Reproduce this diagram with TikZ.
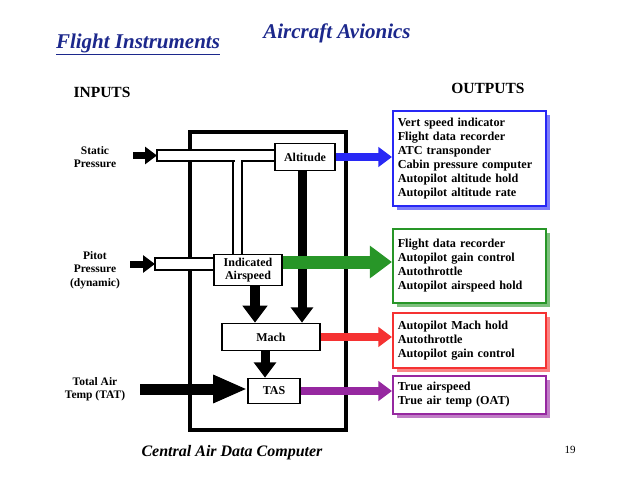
\documentclass[tikz,border=0pt]{standalone}
\usepackage{fontspec}
\setmainfont{Liberation Serif}
\usetikzlibrary{arrows.meta,shadows}
\definecolor{ttl}{RGB}{28,40,140}
\definecolor{ablue}{RGB}{40,40,245}
\definecolor{agreen}{RGB}{40,150,40}
\definecolor{ared}{RGB}{245,50,50}
\definecolor{apurp}{RGB}{150,40,160}
\begin{document}
\begin{tikzpicture}[x=1pt,y=-1pt,
  blk/.style={draw,line width=1.6pt,fill=white,font=\bfseries\fontsize{12}{13}\selectfont,align=center,inner sep=0pt},
  lbl/.style={font=\bfseries\fontsize{11.5}{13.5}\selectfont,align=center},
  out/.style={draw=#1,line width=1.5pt,fill=white,align=left,anchor=north west,font=\bfseries\fontsize{12.2}{14}\selectfont,inner xsep=5pt,inner ysep=3pt,text width=143pt,
    drop shadow={fill=#1!60,shadow xshift=4pt,shadow yshift=-4pt,opacity=1}},
  fat/.style={line width=#1,-{Triangle[width=2.4*#1,length=1.7*#1]}},
  tube/.style={draw,line width=1.4pt,fill=white}]
\fill[white] (0,0) rectangle (638,479);
\node[font=\bfseries\itshape\fontsize{21}{24}\selectfont,text=ttl] (t1) at (138,44) {\underline{Flight Instruments}};
\node[font=\bfseries\itshape\fontsize{21}{24}\selectfont,text=ttl] (t2) at (337,33) {Aircraft Avionics};
\node[font=\bfseries\fontsize{15.5}{17}\selectfont] (in) at (102,92) {INPUTS};
\node[font=\bfseries\fontsize{15.5}{17}\selectfont] (ou) at (488,88) {OUTPUTS};
% big box
\draw[line width=4pt] (190,132) rectangle (346,430);
% tubes
\draw[tube] (157,150) rectangle (277,161);
\draw[tube] (155,258) rectangle (215,270);
\draw[tube] (233,161) rectangle (242,256);
\fill[white] (234.5,159) rectangle (240.5,163);
% boxes
\node[blk,minimum width=60pt,minimum height=27pt] (alt) at (305,157) {Altitude};
\node[blk,minimum width=68pt,minimum height=31pt] (ias) at (248,270) {Indicated\\Airspeed};
\node[blk,minimum width=98pt,minimum height=27pt] (mach) at (271,337) {Mach};
\node[blk,minimum width=52pt,minimum height=25pt] (tas) at (274,391) {TAS};
% labels
\node[lbl] (sp) at (95,157) {Static\\Pressure};
\node[lbl] (pp) at (95,270) {Pitot\\Pressure\\(dynamic)};
\node[lbl] (tat) at (95,389) {Total Air\\Temp (TAT)};
\coordinate (sa) at (133,155.5);
\coordinate (pa) at (130,264);
\coordinate (ta) at (140,389);
\draw[fat=7pt] (sa) -- (157,155.5);
\draw[fat=7pt] (pa) -- (155,264);
\draw[line width=11pt,-{Triangle[width=26pt,length=34pt]}] (ta) -- (tas.west |- ta);
\draw[fat=9pt] (alt.south -| 302,0) -- (mach.north -| 302,0);
\draw[fat=10pt] (ias.south -| 255,0) -- (mach.north -| 255,0);
\draw[fat=9pt] (mach.south -| 265,0) -- (tas.north -| 265,0);
% outputs
\node[out=ablue,minimum height=95pt] (o1) at (392,110) {Vert speed indicator\\Flight data recorder\\ATC transponder\\Cabin pressure computer\\Autopilot altitude hold\\Autopilot altitude rate};
\node[out=agreen,minimum height=74pt] (o2) at (392,228) {Flight data recorder\\Autopilot gain control\\Autothrottle\\Autopilot airspeed hold};
\node[out=ared,minimum height=55pt] (o3) at (392,312) {Autopilot Mach hold\\Autothrottle\\Autopilot gain control};
\node[out=apurp,minimum height=38pt] (o4) at (392,375) {True airspeed\\True air temp (OAT)};
\draw[fat=8pt,ablue] (alt.east) -- (o1.west |- alt.east);
\draw[fat=13pt,agreen] (ias.east |- 0,262) -- (o2.west |- 0,262);
\draw[fat=8pt,ared] (mach.east) -- (o3.west |- mach.east);
\draw[fat=8pt,apurp] (tas.east) -- (o4.west |- tas.east);
\node[font=\bfseries\itshape\fontsize{16}{18}\selectfont] (cadc) at (232,453) {Central Air Data Computer};
\node[font=\fontsize{11}{12}\selectfont] (pg) at (570,450) {19};
\end{tikzpicture}
\end{document}
